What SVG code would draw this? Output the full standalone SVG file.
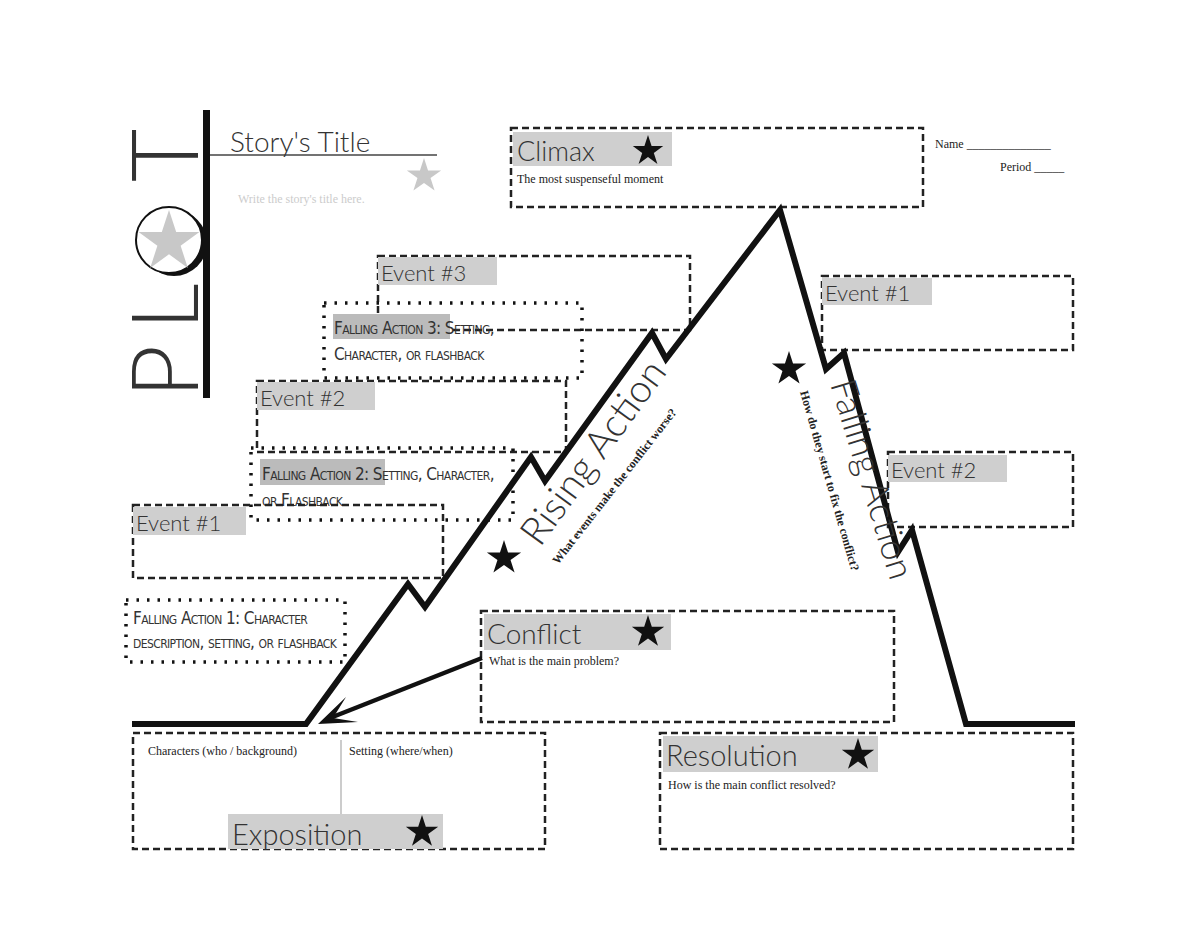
<svg xmlns="http://www.w3.org/2000/svg" width="1200" height="927" viewBox="0 0 1200 927">
<style>
.dash{fill:none;stroke:#222;stroke-width:2.5;stroke-dasharray:7,4}
.dot{fill:none;stroke:#111;stroke-width:3.5;stroke-dasharray:2.5,8}
.lbl{fill:#cfcfcf}
.h{font-family:Lato,"DejaVu Sans",sans-serif;font-weight:300;fill:#333}
.s{font-family:"Liberation Serif",serif;font-size:12px;fill:#222}
.fa{font-family:"DejaVu Sans",sans-serif;font-stretch:condensed;font-variant:small-caps;font-size:17px;fill:#333;letter-spacing:-0.6px}
</style>
<defs>
<path id="star" d="M0,-1 L0.2245,-0.309 L0.951,-0.309 L0.363,0.118 L0.588,0.809 L0,0.382 L-0.588,0.809 L-0.363,0.118 L-0.951,-0.309 L-0.2245,-0.309Z"/>
</defs>
<rect width="1200" height="927" fill="#fff"/>

<g id="title">
<text class="h" transform="translate(198,398) rotate(-90)" font-size="92" fill="#222">P</text>
<text class="h" transform="translate(198,330) rotate(-90)" font-size="92" fill="#222">L</text>
<text class="h" transform="translate(198,182) rotate(-90)" font-size="92" fill="#222">T</text>
<circle cx="174" cy="243" r="33" fill="#111"/>
<circle cx="169" cy="240" r="33" fill="#fff" stroke="#111" stroke-width="2"/>
<use href="#star" transform="translate(169,242) scale(32)" fill="#c8c8c8"/>
<rect x="203" y="110" width="7" height="288" fill="#111"/>
<line x1="210" y1="155" x2="437" y2="155" stroke="#444" stroke-width="1.5"/>
<text class="h" x="230" y="152" font-size="28">Story's Title</text>
<use href="#star" transform="translate(424,176) scale(18)" fill="#c8c8c8"/>
<text x="238" y="203" font-family="Liberation Serif,serif" font-size="12" fill="#ccc">Write the story's title here.</text>
</g>

<g id="name">
<text class="s" x="935" y="148" font-size="11">Name ______________</text>
<text class="s" x="1000" y="171" font-size="11">Period _____</text>
</g>

<g id="climax">
<rect class="dash" x="511" y="128" width="412" height="79"/>
<rect class="lbl" x="513" y="132" width="159" height="34"/>
<text class="h" x="517" y="161" font-size="27">Climax</text>
<use href="#star" transform="translate(648,151) scale(16)" fill="#111"/>
<text class="s" x="517" y="183">The most suspenseful moment</text>
</g>

<g id="event3">
<rect class="dash" x="378" y="256" width="312" height="74"/>
<rect class="lbl" x="378" y="257" width="119" height="28"/>
<text class="h" x="381" y="281" font-size="22">Event #3</text>
</g>
<g id="fa3">
<rect class="dot" x="324" y="303" width="258" height="75"/>
<rect x="333" y="314" width="117" height="25" fill="#bbb"/>
<text class="fa" x="334" y="334">Falling Action 3: Setting,</text>
<text class="fa" x="334" y="360">Character, or flashback</text>
</g>

<g id="event2">
<rect class="dash" x="257" y="381" width="309" height="71"/>
<rect class="lbl" x="257" y="382" width="118" height="28"/>
<text class="h" x="260" y="406" font-size="22">Event #2</text>
</g>
<g id="fa2">
<rect class="dot" x="251" y="448" width="262" height="72"/>
<rect x="260" y="459" width="125" height="26" fill="#bbb"/>
<text class="fa" x="262" y="480">Falling Action 2: Setting, Character,</text>
<text class="fa" x="262" y="506">or Flashback</text>
</g>

<g id="event1l">
<rect class="dash" x="133" y="505" width="310" height="73"/>
<rect class="lbl" x="133" y="507" width="113" height="28"/>
<text class="h" x="136" y="531" font-size="22">Event #1</text>
</g>
<g id="fa1">
<rect class="dot" x="126" y="600" width="219" height="62"/>
<text class="fa" x="133" y="624">Falling Action 1: Character</text>
<text class="fa" x="133" y="648">description, setting, or flashback</text>
</g>

<g id="event1r">
<rect class="dash" x="822" y="276" width="251" height="74"/>
<rect class="lbl" x="822" y="278" width="110" height="27"/>
<text class="h" x="825" y="301" font-size="22">Event #1</text>
</g>
<g id="event2r">
<rect class="dash" x="888" y="452" width="185" height="75"/>
<rect class="lbl" x="888" y="455" width="119" height="27"/>
<text class="h" x="891" y="478" font-size="22">Event #2</text>
</g>

<g id="mountain">
<polyline points="132,724 306,724 408,584 425,607 531,457 545,481 652,333 666,359 780,210 826,369 844,353 898,552 912,530 966,724 1075,724" fill="none" stroke="#111" stroke-width="6"/>
</g>

<g id="rising">
<use href="#star" transform="translate(504,558) scale(18)" fill="#111"/>
<text class="h" transform="translate(540,548) rotate(-54)" font-size="39" fill="#222">Rising Action</text>
<text class="s" transform="translate(558,565) rotate(-52)" font-size="14.5" font-weight="bold">What events make the conflict worse?</text>
</g>
<g id="falling">
<use href="#star" transform="translate(789,369) scale(18)" fill="#111"/>
<text class="h" transform="translate(830,384) rotate(73)" font-size="36" fill="#222">Falling Action</text>
<text class="s" transform="translate(800,392) rotate(74)" font-size="14" font-weight="bold">How do they start to fix the conflict?</text>
</g>

<g id="conflict">
<rect class="dash" x="481" y="611" width="413" height="111"/>
<rect class="lbl" x="484" y="614" width="187" height="36"/>
<text class="h" x="487" y="644" font-size="28">Conflict</text>
<use href="#star" transform="translate(648,632) scale(17)" fill="#111"/>
<text class="s" x="489" y="665">What is the main problem?</text>
</g>

<g id="connectors">
<line x1="482" y1="658" x2="330" y2="718" stroke="#111" stroke-width="4.5"/>
<path d="M318,724 L346,697 L333,718 L358,722 Z" fill="#111"/>
</g>

<g id="exposition">
<rect class="dash" x="133" y="733" width="412" height="116"/>
<text class="s" x="148" y="755">Characters (who / background)</text>
<line x1="341" y1="740" x2="341" y2="814" stroke="#999" stroke-width="1"/>
<text class="s" x="349" y="755">Setting (where/when)</text>
<rect class="lbl" x="228" y="814" width="215" height="35"/>
<text class="h" x="232" y="845" font-size="29">Exposition</text>
<use href="#star" transform="translate(422,832) scale(17)" fill="#111"/>
</g>

<g id="resolution">
<rect class="dash" x="660" y="733" width="413" height="116"/>
<rect class="lbl" x="663" y="736" width="215" height="36"/>
<text class="h" x="666" y="766" font-size="29">Resolution</text>
<use href="#star" transform="translate(858,755) scale(17)" fill="#111"/>
<text class="s" x="668" y="789">How is the main conflict resolved?</text>
</g>
</svg>
